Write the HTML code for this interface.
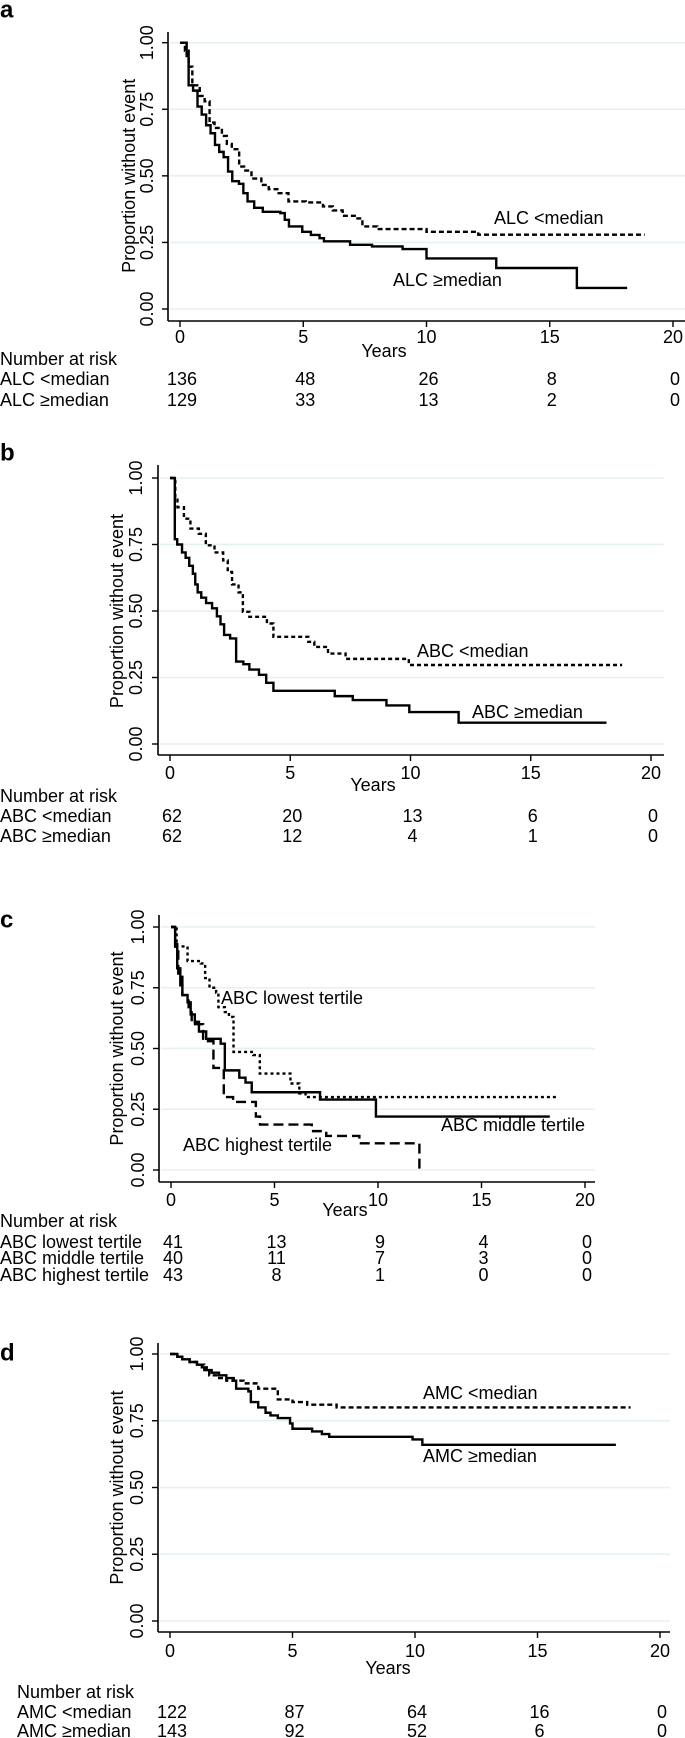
<!DOCTYPE html>
<html><head><meta charset="utf-8">
<style>
html,body{margin:0;padding:0;background:#fff;}
svg{display:block;font-family:"Liberation Sans",Arial,sans-serif;}
</style></head>
<body>
<svg id="chart" width="685" height="1738" viewBox="0 0 685 1738" xmlns="http://www.w3.org/2000/svg"></svg>
<script>
// ---------- DATA ----------
const xTicks = [0, 5, 10, 15, 20];
const yTicks = [0, 0.25, 0.5, 0.75, 1.0];
const yTickLabels = ["0.00", "0.25", "0.50", "0.75", "1.00"];

// Panel a
const aLowTimes = [0,0.2,0.35,0.5,0.8,1.0,1.2,1.4,1.7,1.9,2.1,2.4,2.6,2.9,3.3,3.6,4.0,4.4,5.1,5.8,6.2,6.6,7.2,7.4,8.0,10.0,12.1];
const aLowSurv  = [1,0.97,0.91,0.84,0.80,0.78,0.70,0.68,0.65,0.62,0.60,0.535,0.52,0.49,0.466,0.45,0.435,0.404,0.40,0.385,0.37,0.35,0.34,0.31,0.30,0.29,0.279];
const aLowEnd = 18.85;
const aHighTimes = [0,0.27,0.35,0.53,0.71,0.88,1.06,1.24,1.42,1.59,1.77,1.95,2.12,2.39,2.57,2.74,3.01,3.36,4.07,4.25,4.42,4.96,5.31,5.66,5.84,6.9,7.79,9.03,10.0,12.83,16.1];
const aHighSurv  = [1,0.95,0.84,0.82,0.76,0.73,0.69,0.66,0.616,0.59,0.57,0.516,0.48,0.47,0.435,0.404,0.38,0.365,0.36,0.335,0.31,0.29,0.278,0.266,0.254,0.241,0.235,0.225,0.19,0.154,0.079];
const aHighEnd = 18.14;
const aRiskLow = ["136","48","26","8","0"];
const aRiskHigh = ["129","33","13","2","0"];

// Panel b
const bLowTimes = [0,0.22,0.31,0.58,0.85,1.2,1.49,1.85,2.21,2.4,2.58,2.85,3.03,3.3,4.03,4.3,5.75,6.0,6.57,7.3,9.93];
const bLowSurv  = [1,0.93,0.89,0.847,0.81,0.79,0.747,0.72,0.69,0.647,0.6,0.57,0.497,0.478,0.453,0.403,0.384,0.365,0.34,0.32,0.297];
const bLowEnd = 18.8;
const bHighTimes = [0,0.2,0.3,0.5,0.65,0.8,0.95,1.05,1.15,1.3,1.5,1.75,1.95,2.1,2.25,2.5,2.75,3.05,3.3,3.7,4.0,4.3,6.85,7.6,9.0,9.95,12.0];
const bHighSurv  = [1,0.77,0.75,0.72,0.70,0.67,0.64,0.6,0.57,0.55,0.53,0.51,0.48,0.45,0.41,0.397,0.31,0.3,0.28,0.26,0.23,0.2,0.18,0.165,0.145,0.12,0.08];
const bHighEnd = 18.15;
const bRiskLow = ["62","20","13","6","0"];
const bRiskHigh = ["62","12","4","1","0"];

// Panel c
const cLowTimes = [0,0.27,0.8,1.44,1.65,1.86,2.18,2.29,2.6,2.8,3.02,3.97,4.29,5.77,6.2,6.5];
const cLowSurv  = [1,0.92,0.86,0.85,0.79,0.75,0.73,0.67,0.65,0.63,0.486,0.473,0.397,0.356,0.315,0.30];
const cLowEnd = 18.67;
const cMidTimes = [0,0.2,0.3,0.45,0.55,0.8,0.95,1.15,1.35,1.7,2.4,2.6,3.3,3.6,3.9,7.2,9.9];
const cMidSurv  = [1,0.93,0.83,0.76,0.72,0.69,0.64,0.61,0.57,0.54,0.52,0.41,0.38,0.36,0.32,0.29,0.22];
const cMidEnd = 18.3;
const cHighTimes = [0,0.2,0.35,0.55,0.85,1.0,1.55,2.05,2.55,3.0,4.1,4.3,6.8,7.5,9.1,12.0];
const cHighSurv  = [1,0.9,0.8,0.72,0.67,0.6,0.53,0.42,0.30,0.28,0.22,0.187,0.16,0.14,0.11,0.0];
const cHighEnd = 12.0;
const cRiskLow = ["41","13","9","4","0"];
const cRiskMid = ["40","11","7","3","0"];
const cRiskHigh = ["43","8","1","0","0"];

// Panel d
const dLowTimes = [0,0.3,0.5,0.8,1.1,1.4,1.6,1.9,2.3,3.0,3.6,4.4,5.0,5.6,6.8];
const dLowSurv  = [1,0.99,0.98,0.97,0.96,0.94,0.92,0.91,0.90,0.89,0.87,0.83,0.82,0.81,0.80];
const dLowEnd = 18.8;
const dHighTimes = [0,0.3,0.5,0.8,1.1,1.3,1.5,1.7,2.0,2.3,2.6,2.7,3.2,3.3,3.6,3.9,4.1,4.4,4.9,5.0,5.8,6.2,6.5,9.9,10.3];
const dHighSurv  = [1,0.99,0.98,0.97,0.96,0.95,0.94,0.93,0.92,0.91,0.90,0.87,0.86,0.82,0.80,0.78,0.77,0.76,0.74,0.72,0.71,0.70,0.69,0.68,0.66];
const dHighEnd = 18.2;
const dRiskLow = ["122","87","64","16","0"];
const dRiskHigh = ["143","92","52","6","0"];

// ---------- DRAW ----------
const svg = document.getElementById('chart');
const NS = 'http://www.w3.org/2000/svg';
function mk(tag, attrs, parent){
  const e = document.createElementNS(NS, tag);
  for (const k in attrs) e.setAttribute(k, attrs[k]);
  (parent || svg).appendChild(e);
  return e;
}
function txt(s, x, y, anchor, parent, extra){
  const t = mk('text', Object.assign({x:x, y:y, 'font-size':18, 'text-anchor':anchor||'start', 'dominant-baseline':'central', fill:'#000'}, extra||{}), parent);
  t.textContent = s;
  return t;
}

function panel(cfg){
  const g = mk('g', {});
  
  
  const xS = v => cfg.x0 + (cfg.x20 - cfg.x0) * v / 20;
  const yS = v => cfg.y0 + (cfg.y1 - cfg.y0) * v;
  const pl = txt(cfg.id, 0, cfg.letterY, 'start', g, {'font-size':24, 'font-weight':'bold'});
  
  
  yTicks.forEach((v, i) => {
    const gl = mk('line', {x1: cfg.axisX + 2, x2: cfg.gridEnd, y1: yS(v), y2: yS(v), stroke:'#e6f0f0', 'stroke-width':1.6}, g);
    
    
  });
  const ya = mk('line', {x1: cfg.axisX, x2: cfg.axisX, y1: cfg.axisTop, y2: cfg.axisY, stroke:'#000', 'stroke-width':1.6}, g);
  
  
  const xa = mk('line', {x1: cfg.axisX, x2: cfg.gridEnd, y1: cfg.axisY, y2: cfg.axisY, stroke:'#000', 'stroke-width':1.6}, g);
  
  
  yTicks.forEach((v, i) => {
    mk('line', {x1: cfg.axisX - 6, x2: cfg.axisX, y1: yS(v), y2: yS(v), stroke:'#000', 'stroke-width':1.4}, g);
    const t = txt(yTickLabels[i], 0, 0, 'middle', g, {transform: 'translate(' + cfg.yLabX + ',' + yS(v) + ') rotate(-90)'});
    
    
  });
  const yt = txt('Proportion without event', 0, 0, 'middle', g, {transform: 'translate(' + cfg.yTitleX + ',' + yS(0.5) + ') rotate(-90)'});
  
  
  xTicks.forEach(v => {
    mk('line', {x1: xS(v), x2: xS(v), y1: cfg.axisY, y2: cfg.axisY + 6, stroke:'#000', 'stroke-width':1.4}, g);
    const t = txt(String(v), xS(v), cfg.axisY + cfg.tickDy, 'middle', g);
    
    
  });
  const xt = txt('Years', cfg.yearsX, cfg.axisY + cfg.yearsDy, 'middle', g);
  
  
  cfg.series.forEach(s => {
    let d = 'M' + xS(s.t[0]) + ',' + yS(s.s[0]);
    for (let i = 1; i < s.t.length; i++) {
      d += ' H' + xS(s.t[i]) + ' V' + yS(s.s[i]);
    }
    d += ' H' + xS(s.end);
    const p = mk('path', {d: d, fill:'none', stroke:'#000', 'stroke-width':2.4, 'stroke-dasharray': s.dash || 'none'}, g);
    
    
    const l = txt(s.label, s.lx, s.ly, 'start', g);
    
    
  });
  const nr = txt('Number at risk', cfg.riskX, cfg.axisY + cfg.riskDy[0], 'start', g);
  
  
  cfg.risk.forEach((r, ri) => {
    const y = cfg.axisY + cfg.riskDy[ri + 1];
    const rl = txt(r.label, cfg.riskX, y, 'start', g);
    
    
    r.vals.forEach((v, i) => {
      const c = txt(v, xS(xTicks[i]) + 2, y, 'middle', g);
      
      
    });
  });
}

panel({id:'a', letterY:10, x0:180, x20:673, y0:309, y1:42.7, axisX:168, axisTop:32, axisY:321, gridEnd:685,
  yLabX:147, yTitleX:129, tickDy:16, yearsX:384, yearsDy:30, riskX:0, riskDy:[38,58,79],
  series:[
    {name:'alc-below-median-line', t:aLowTimes, s:aLowSurv, end:aLowEnd, dash:'5,3', label:'ALC <median', lx:494, ly:218},
    {name:'alc-above-median-line', t:aHighTimes, s:aHighSurv, end:aHighEnd, label:'ALC \u2265median', lx:393, ly:280}
  ],
  risk:[{label:'ALC <median', vals:aRiskLow},{label:'ALC \u2265median', vals:aRiskHigh}]
});

panel({id:'b', letterY:453, x0:170, x20:651, y0:744, y1:478, axisX:158, axisTop:465, axisY:755, gridEnd:664,
  yLabX:136, yTitleX:117, tickDy:18, yearsX:373, yearsDy:30, riskX:0, riskDy:[41,61,81],
  series:[
    {name:'abc-below-median-line', t:bLowTimes, s:bLowSurv, end:bLowEnd, dash:'4,3', label:'ABC <median', lx:417, ly:651},
    {name:'abc-above-median-line', t:bHighTimes, s:bHighSurv, end:bHighEnd, label:'ABC \u2265median', lx:472, ly:712}
  ],
  risk:[{label:'ABC <median', vals:bRiskLow},{label:'ABC \u2265median', vals:bRiskHigh}]
});

panel({id:'c', letterY:920, x0:171, x20:585, y0:1170, y1:927, axisX:159, axisTop:915, axisY:1182, gridEnd:595,
  yLabX:138, yTitleX:117, tickDy:18, yearsX:345, yearsDy:28, riskX:0, riskDy:[39,60,76,93],
  series:[
    {name:'abc-lowest-tertile-line', t:cLowTimes, s:cLowSurv, end:cLowEnd, dash:'3,3', label:'ABC lowest tertile', lx:221, ly:998},
    {name:'abc-middle-tertile-line', t:cMidTimes, s:cMidSurv, end:cMidEnd, label:'ABC middle tertile', lx:441, ly:1125},
    {name:'abc-highest-tertile-line', t:cHighTimes, s:cHighSurv, end:cHighEnd, dash:'10,5', label:'ABC highest tertile', lx:183, ly:1145}
  ],
  risk:[{label:'ABC lowest tertile', vals:cRiskLow},{label:'ABC middle tertile', vals:cRiskMid},{label:'ABC highest tertile', vals:cRiskHigh}]
});

panel({id:'d', letterY:1353, x0:170, x20:660, y0:1621, y1:1354, axisX:158, axisTop:1343, axisY:1632, gridEnd:670,
  yLabX:137, yTitleX:117, tickDy:19, yearsX:388, yearsDy:36, riskX:17, riskDy:[60,80,99],
  series:[
    {name:'amc-below-median-line', t:dLowTimes, s:dLowSurv, end:dLowEnd, dash:'5,3', label:'AMC <median', lx:423, ly:1393},
    {name:'amc-above-median-line', t:dHighTimes, s:dHighSurv, end:dHighEnd, label:'AMC \u2265median', lx:423, ly:1456}
  ],
  risk:[{label:'AMC <median', vals:dRiskLow},{label:'AMC \u2265median', vals:dRiskHigh}]
});
</script>
</body></html>
